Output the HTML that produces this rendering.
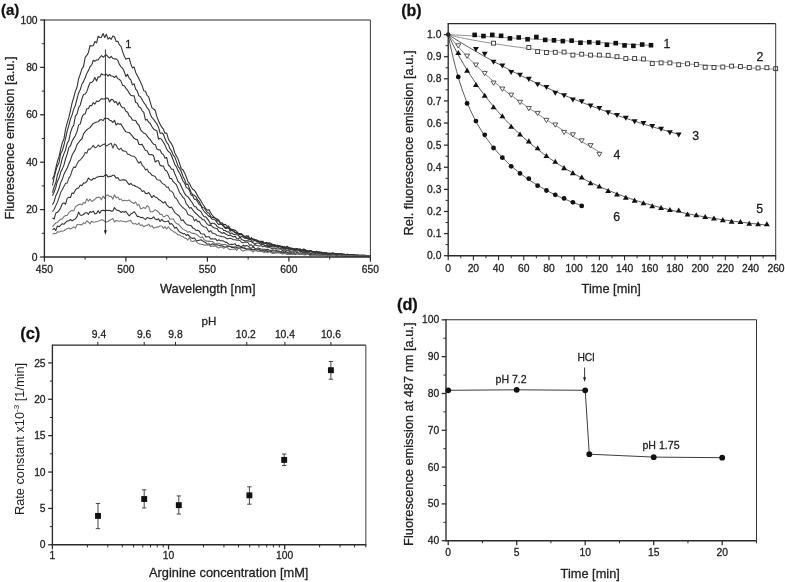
<!DOCTYPE html>
<html lang="en"><head><meta charset="utf-8"><title>Figure</title>
<style>html,body{margin:0;padding:0;background:#fff;}body{width:785px;height:582px;overflow:hidden;}svg{display:block;filter:blur(0.35px);}</style></head>
<body>
<svg width="785" height="582" viewBox="0 0 785 582" font-family='"Liberation Sans", Arial, sans-serif'>
<rect width="785" height="582" fill="#fff"/>
<g fill="none" stroke-linejoin="round">
<polyline points="52.5,179.4 54.2,175.2 55.8,168.2 57.4,161.4 59.1,156.4 60.7,149.1 62.3,142.9 64.0,138.7 65.6,128.9 67.2,122.9 68.8,117.7 70.5,110.3 72.1,102.8 73.7,97.5 75.4,91.4 77.0,87.3 78.6,78.8 80.3,74.1 81.9,68.8 83.5,66.7 85.2,57.3 86.8,55.4 88.4,52.6 90.0,45.6 91.7,45.9 93.3,45.5 94.9,41.5 96.6,42.9 98.2,36.2 99.8,37.5 101.4,37.2 103.1,33.5 104.7,37.6 106.3,34.3 108.0,39.1 109.6,37.7 111.2,39.3 112.9,36.0 114.5,36.7 116.1,41.4 117.8,41.2 119.4,44.9 121.0,46.3 122.6,51.6 124.3,56.3 125.9,59.2 127.5,58.5 129.2,58.2 130.8,63.9 132.4,67.9 134.1,67.0 135.7,72.4 137.3,75.5 138.9,78.5 140.6,82.3 142.2,85.9 143.8,90.8 145.5,91.3 147.1,95.4 148.7,96.9 150.3,102.4 152.0,107.9 153.6,109.0 155.2,110.3 156.9,116.6 158.5,120.7 160.1,124.3 161.8,127.1 163.4,129.1 165.0,133.2 166.7,133.1 168.3,138.7 169.9,141.7 171.5,143.8 173.2,147.4 174.8,153.0 176.4,155.9 178.1,159.1 179.7,163.7 181.3,169.0 183.0,169.8 184.6,172.9 186.2,176.7 187.8,181.3 189.5,183.6 191.1,186.8 192.7,189.2 194.4,190.3 196.0,192.6 197.6,195.9 199.2,198.4 200.9,200.7 202.5,203.7 204.1,206.0 205.8,208.7 207.4,210.1 209.0,209.9 210.7,212.7 212.3,215.3 213.9,216.9 215.6,218.6 217.2,219.0 218.8,220.3 220.4,223.1 222.1,222.8 223.7,224.7 225.3,224.3 227.0,226.2 228.6,226.0 230.2,228.6 231.8,229.4 233.5,229.8 235.1,230.2 236.7,231.4 238.4,233.6 240.0,233.5 241.6,234.5 243.3,235.6 244.9,236.6 246.5,235.7 248.2,237.8 249.8,238.8 251.4,238.4 253.0,239.3 254.7,240.0 256.3,239.9 257.9,240.6 259.6,241.2 261.2,241.3 262.8,242.2 264.4,243.2 266.1,243.4 267.7,243.9 269.3,243.8 271.0,245.0 272.6,245.8 274.2,244.9 275.9,246.2 277.5,246.9 279.1,245.7 280.8,246.7 282.4,246.3 284.0,247.2 285.6,247.8 287.3,248.2 288.9,248.1 290.5,248.2 292.2,248.8 293.8,248.8 295.4,249.8 297.1,249.2 298.7,250.5 300.3,249.9 301.9,249.7 303.6,249.8 305.2,249.8 306.8,251.6 308.5,250.8 310.1,250.8 311.7,251.2 313.3,252.2 315.0,251.8 316.6,251.4 318.2,252.9 319.9,252.4 321.5,252.3 323.1,253.1 324.8,252.8 326.4,253.5 328.0,253.6 329.6,253.7 331.3,253.5 332.9,253.7 334.5,253.6 336.2,254.2 337.8,254.1 339.4,254.0 341.1,254.2 342.7,254.8 344.3,254.4 345.9,254.8 347.6,254.7 349.2,254.9 350.8,254.8 352.5,255.1 354.1,255.6 355.7,255.6 357.4,255.3 359.0,255.6 360.6,255.5 362.2,255.7 363.9,255.9 365.5,255.7 367.1,256.0 368.8,256.2 370.4,255.9" stroke="#333" stroke-width="1.1"/>
<polyline points="52.5,185.5 54.2,177.0 55.8,170.8 57.4,165.9 59.1,162.2 60.7,153.4 62.3,150.7 64.0,145.0 65.6,138.1 67.2,130.9 68.8,125.5 70.5,118.9 72.1,114.9 73.7,109.1 75.4,105.2 77.0,99.0 78.6,92.9 80.3,89.6 81.9,84.2 83.5,81.6 85.2,77.8 86.8,73.4 88.4,70.6 90.0,66.7 91.7,64.9 93.3,60.2 94.9,61.3 96.6,59.9 98.2,60.0 99.8,57.5 101.4,55.6 103.1,57.2 104.7,55.9 106.3,54.9 108.0,56.7 109.6,58.0 111.2,56.3 112.9,58.5 114.5,58.9 116.1,58.8 117.8,60.3 119.4,64.4 121.0,66.8 122.6,68.3 124.3,71.7 125.9,76.7 127.5,74.3 129.2,78.4 130.8,79.7 132.4,84.9 134.1,83.8 135.7,89.1 137.3,91.1 138.9,95.7 140.6,96.9 142.2,99.8 143.8,102.6 145.5,104.6 147.1,107.9 148.7,109.4 150.3,114.2 152.0,117.7 153.6,119.4 155.2,121.6 156.9,123.8 158.5,127.2 160.1,133.2 161.8,133.0 163.4,134.3 165.0,138.7 166.7,142.3 168.3,144.4 169.9,148.7 171.5,150.8 173.2,155.1 174.8,156.9 176.4,161.4 178.1,166.3 179.7,168.4 181.3,171.5 183.0,176.4 184.6,179.4 186.2,184.4 187.8,184.1 189.5,188.4 191.1,192.5 192.7,194.6 194.4,195.4 196.0,196.8 197.6,199.8 199.2,201.4 200.9,205.1 202.5,207.5 204.1,207.8 205.8,210.2 207.4,212.5 209.0,213.0 210.7,216.4 212.3,217.4 213.9,217.5 215.6,218.2 217.2,220.9 218.8,220.8 220.4,223.8 222.1,224.2 223.7,225.6 225.3,227.7 227.0,227.2 228.6,227.6 230.2,229.2 231.8,230.0 233.5,229.7 235.1,232.5 236.7,233.5 238.4,233.7 240.0,234.9 241.6,233.8 243.3,235.3 244.9,236.9 246.5,237.4 248.2,235.7 249.8,238.6 251.4,239.3 253.0,239.1 254.7,239.4 256.3,240.2 257.9,241.5 259.6,242.1 261.2,241.4 262.8,242.3 264.4,243.7 266.1,242.3 267.7,242.9 269.3,244.0 271.0,244.4 272.6,244.4 274.2,245.3 275.9,246.1 277.5,245.4 279.1,246.8 280.8,246.0 282.4,247.4 284.0,246.9 285.6,247.2 287.3,246.3 288.9,248.3 290.5,248.8 292.2,248.7 293.8,249.2 295.4,249.2 297.1,248.9 298.7,249.0 300.3,248.9 301.9,250.4 303.6,249.0 305.2,249.6 306.8,250.9 308.5,252.1 310.1,251.3 311.7,251.4 313.3,252.6 315.0,251.9 316.6,252.2 318.2,252.6 319.9,252.2 321.5,252.2 323.1,252.9 324.8,252.8 326.4,253.3 328.0,253.5 329.6,253.3 331.3,253.3 332.9,253.8 334.5,254.4 336.2,253.7 337.8,254.4 339.4,254.1 341.1,253.8 342.7,254.3 344.3,254.7 345.9,254.9 347.6,254.4 349.2,254.8 350.8,254.8 352.5,254.8 354.1,255.1 355.7,255.2 357.4,255.4 359.0,255.8 360.6,255.7 362.2,255.5 363.9,255.6 365.5,255.6 367.1,255.8 368.8,255.8 370.4,255.8" stroke="#333" stroke-width="1.1"/>
<polyline points="52.5,192.7 54.2,186.7 55.8,182.8 57.4,174.8 59.1,170.5 60.7,164.7 62.3,158.3 64.0,153.6 65.6,149.7 67.2,143.3 68.8,140.6 70.5,132.7 72.1,127.8 73.7,125.1 75.4,116.2 77.0,114.2 78.6,107.8 80.3,105.0 81.9,98.9 83.5,94.5 85.2,94.0 86.8,91.7 88.4,86.8 90.0,82.8 91.7,82.4 93.3,80.8 94.9,77.4 96.6,81.0 98.2,76.8 99.8,77.0 101.4,73.7 103.1,74.7 104.7,75.0 106.3,74.0 108.0,76.2 109.6,74.5 111.2,76.0 112.9,76.2 114.5,77.5 116.1,75.9 117.8,78.7 119.4,79.3 121.0,81.1 122.6,85.4 124.3,85.7 125.9,88.1 127.5,90.1 129.2,93.2 130.8,95.3 132.4,95.7 134.1,95.9 135.7,102.5 137.3,103.0 138.9,106.8 140.6,107.8 142.2,110.8 143.8,112.4 145.5,120.1 147.1,119.4 148.7,122.3 150.3,123.5 152.0,126.7 153.6,129.1 155.2,129.9 156.9,130.8 158.5,139.2 160.1,138.3 161.8,139.7 163.4,142.3 165.0,145.1 166.7,149.0 168.3,151.5 169.9,152.6 171.5,155.5 173.2,160.0 174.8,164.4 176.4,166.7 178.1,170.6 179.7,173.2 181.3,177.0 183.0,181.0 184.6,183.1 186.2,187.4 187.8,188.2 189.5,190.4 191.1,195.1 192.7,195.8 194.4,199.3 196.0,199.4 197.6,201.6 199.2,204.6 200.9,205.6 202.5,209.0 204.1,211.3 205.8,213.2 207.4,214.6 209.0,216.3 210.7,217.3 212.3,219.3 213.9,219.4 215.6,220.4 217.2,222.8 218.8,224.6 220.4,224.0 222.1,224.7 223.7,226.6 225.3,228.4 227.0,228.1 228.6,227.9 230.2,231.3 231.8,230.3 233.5,231.6 235.1,232.7 236.7,232.5 238.4,234.5 240.0,234.1 241.6,234.1 243.3,235.6 244.9,237.1 246.5,238.3 248.2,238.6 249.8,239.5 251.4,237.7 253.0,239.5 254.7,240.5 256.3,241.2 257.9,241.5 259.6,241.5 261.2,242.5 262.8,241.1 264.4,243.0 266.1,243.5 267.7,243.2 269.3,242.8 271.0,243.3 272.6,244.8 274.2,244.7 275.9,245.1 277.5,245.2 279.1,245.7 280.8,246.7 282.4,247.2 284.0,246.7 285.6,247.8 287.3,246.5 288.9,247.6 290.5,248.5 292.2,248.4 293.8,248.8 295.4,248.9 297.1,248.6 298.7,250.1 300.3,250.6 301.9,249.8 303.6,250.3 305.2,250.4 306.8,250.5 308.5,251.0 310.1,250.8 311.7,251.8 313.3,251.6 315.0,252.1 316.6,252.4 318.2,251.9 319.9,252.1 321.5,253.2 323.1,253.1 324.8,252.8 326.4,252.6 328.0,253.4 329.6,253.3 331.3,253.8 332.9,252.8 334.5,253.5 336.2,253.5 337.8,253.7 339.4,253.8 341.1,254.0 342.7,254.3 344.3,254.2 345.9,254.5 347.6,254.3 349.2,254.8 350.8,254.9 352.5,254.8 354.1,254.8 355.7,255.1 357.4,255.3 359.0,255.3 360.6,255.4 362.2,255.2 363.9,255.4 365.5,255.4 367.1,255.6 368.8,255.7 370.4,255.6" stroke="#333" stroke-width="1.1"/>
<polyline points="52.5,195.7 54.2,191.8 55.8,187.4 57.4,181.4 59.1,178.1 60.7,172.1 62.3,169.1 64.0,164.9 65.6,158.5 67.2,154.1 68.8,147.6 70.5,145.7 72.1,141.0 73.7,138.4 75.4,135.5 77.0,131.6 78.6,125.1 80.3,123.9 81.9,117.6 83.5,114.2 85.2,113.9 86.8,108.7 88.4,108.6 90.0,105.5 91.7,105.8 93.3,102.6 94.9,104.1 96.6,100.9 98.2,101.6 99.8,100.5 101.4,98.7 103.1,98.9 104.7,99.0 106.3,98.0 108.0,98.2 109.6,101.9 111.2,99.4 112.9,99.7 114.5,102.4 116.1,101.5 117.8,105.0 119.4,102.2 121.0,106.1 122.6,107.8 124.3,107.8 125.9,111.4 127.5,112.0 129.2,116.0 130.8,117.1 132.4,120.1 134.1,120.3 135.7,120.5 137.3,123.7 138.9,125.0 140.6,129.8 142.2,131.7 143.8,133.1 145.5,133.7 147.1,135.9 148.7,138.3 150.3,139.4 152.0,142.4 153.6,144.2 155.2,144.5 156.9,148.9 158.5,149.8 160.1,149.9 161.8,153.5 163.4,154.6 165.0,158.2 166.7,157.4 168.3,165.0 169.9,166.5 171.5,169.3 173.2,169.3 174.8,173.7 176.4,177.4 178.1,181.7 179.7,183.1 181.3,186.4 183.0,190.0 184.6,193.4 186.2,195.6 187.8,196.7 189.5,198.9 191.1,201.2 192.7,203.4 194.4,206.7 196.0,206.8 197.6,209.4 199.2,210.2 200.9,211.6 202.5,214.5 204.1,216.7 205.8,216.8 207.4,218.9 209.0,221.1 210.7,224.2 212.3,223.0 213.9,223.5 215.6,224.2 217.2,226.6 218.8,227.5 220.4,228.3 222.1,228.2 223.7,230.5 225.3,230.5 227.0,231.9 228.6,231.7 230.2,233.7 231.8,232.9 233.5,234.2 235.1,234.7 236.7,234.8 238.4,235.0 240.0,237.6 241.6,236.3 243.3,237.3 244.9,238.4 246.5,237.8 248.2,239.2 249.8,238.9 251.4,240.7 253.0,241.3 254.7,240.4 256.3,240.3 257.9,241.7 259.6,241.9 261.2,243.2 262.8,244.1 264.4,243.8 266.1,243.1 267.7,245.6 269.3,245.1 271.0,246.3 272.6,245.4 274.2,245.3 275.9,246.9 277.5,246.7 279.1,245.9 280.8,247.1 282.4,248.0 284.0,248.4 285.6,249.0 287.3,247.7 288.9,248.8 290.5,248.1 292.2,248.4 293.8,249.6 295.4,249.7 297.1,249.3 298.7,249.9 300.3,250.1 301.9,251.3 303.6,250.3 305.2,251.3 306.8,252.2 308.5,251.7 310.1,251.4 311.7,250.9 313.3,252.1 315.0,252.7 316.6,251.6 318.2,252.5 319.9,252.8 321.5,253.2 323.1,253.3 324.8,252.7 326.4,253.4 328.0,253.6 329.6,253.7 331.3,253.2 332.9,253.9 334.5,253.7 336.2,253.9 337.8,254.0 339.4,254.4 341.1,254.2 342.7,254.1 344.3,254.5 345.9,254.8 347.6,255.0 349.2,254.8 350.8,255.0 352.5,255.0 354.1,255.1 355.7,255.4 357.4,255.1 359.0,255.3 360.6,255.4 362.2,255.4 363.9,255.4 365.5,255.6 367.1,255.7 368.8,255.6 370.4,255.7" stroke="#333" stroke-width="1.1"/>
<polyline points="52.5,204.8 54.2,201.4 55.8,195.7 57.4,192.6 59.1,188.0 60.7,182.9 62.3,179.3 64.0,174.2 65.6,171.1 67.2,168.0 68.8,163.9 70.5,160.2 72.1,155.1 73.7,152.3 75.4,149.4 77.0,144.6 78.6,142.5 80.3,140.3 81.9,139.0 83.5,133.8 85.2,131.7 86.8,129.8 88.4,128.6 90.0,127.6 91.7,125.3 93.3,123.4 94.9,122.8 96.6,122.0 98.2,121.7 99.8,120.0 101.4,119.6 103.1,120.6 104.7,118.2 106.3,118.3 108.0,118.5 109.6,120.2 111.2,120.7 112.9,122.5 114.5,120.3 116.1,125.0 117.8,123.4 119.4,124.3 121.0,123.9 122.6,126.7 124.3,129.7 125.9,131.8 127.5,132.2 129.2,132.5 130.8,134.1 132.4,136.1 134.1,138.3 135.7,139.4 137.3,139.6 138.9,144.2 140.6,144.6 142.2,144.4 143.8,147.5 145.5,150.5 147.1,150.7 148.7,154.2 150.3,154.8 152.0,154.6 153.6,155.8 155.2,162.0 156.9,160.7 158.5,160.8 160.1,165.4 161.8,165.9 163.4,166.1 165.0,170.1 166.7,171.0 168.3,174.0 169.9,178.5 171.5,178.5 173.2,181.7 174.8,183.2 176.4,184.6 178.1,188.9 179.7,192.8 181.3,194.7 183.0,197.4 184.6,198.9 186.2,203.6 187.8,205.4 189.5,208.2 191.1,207.6 192.7,209.8 194.4,212.0 196.0,213.5 197.6,214.9 199.2,216.7 200.9,217.7 202.5,219.6 204.1,219.7 205.8,222.2 207.4,224.4 209.0,225.4 210.7,225.1 212.3,226.7 213.9,227.8 215.6,228.3 217.2,228.6 218.8,231.5 220.4,232.0 222.1,233.4 223.7,232.5 225.3,233.8 227.0,234.7 228.6,235.4 230.2,234.9 231.8,236.1 233.5,236.9 235.1,236.3 236.7,238.4 238.4,239.1 240.0,237.0 241.6,239.6 243.3,240.2 244.9,240.9 246.5,240.9 248.2,240.8 249.8,241.3 251.4,241.8 253.0,242.8 254.7,243.9 256.3,243.2 257.9,242.8 259.6,243.5 261.2,244.6 262.8,244.4 264.4,245.4 266.1,245.5 267.7,246.6 269.3,246.3 271.0,246.4 272.6,246.9 274.2,246.6 275.9,246.2 277.5,246.8 279.1,248.0 280.8,248.6 282.4,248.8 284.0,249.2 285.6,248.9 287.3,248.9 288.9,249.3 290.5,249.5 292.2,249.8 293.8,250.1 295.4,250.7 297.1,249.7 298.7,250.2 300.3,251.4 301.9,251.6 303.6,251.7 305.2,251.6 306.8,251.3 308.5,251.6 310.1,251.8 311.7,251.9 313.3,252.1 315.0,252.4 316.6,252.7 318.2,253.1 319.9,253.8 321.5,253.4 323.1,252.8 324.8,253.7 326.4,253.9 328.0,253.5 329.6,253.9 331.3,254.1 332.9,253.7 334.5,254.1 336.2,254.1 337.8,254.6 339.4,254.4 341.1,254.5 342.7,254.5 344.3,254.5 345.9,254.7 347.6,254.9 349.2,254.9 350.8,255.3 352.5,255.1 354.1,255.2 355.7,255.4 357.4,255.5 359.0,255.5 360.6,255.7 362.2,255.6 363.9,255.6 365.5,255.8 367.1,255.7 368.8,255.7 370.4,255.7" stroke="#333" stroke-width="1.1"/>
<polyline points="52.5,211.8 54.2,209.2 55.8,205.7 57.4,202.2 59.1,197.6 60.7,192.3 62.3,189.8 64.0,186.2 65.6,183.2 67.2,183.2 68.8,178.4 70.5,175.5 72.1,170.5 73.7,167.1 75.4,167.4 77.0,163.9 78.6,160.9 80.3,160.0 81.9,158.1 83.5,156.2 85.2,152.4 86.8,153.2 88.4,149.1 90.0,149.4 91.7,147.5 93.3,145.4 94.9,147.7 96.6,147.3 98.2,145.0 99.8,146.6 101.4,145.7 103.1,144.5 104.7,144.0 106.3,146.0 108.0,145.0 109.6,144.0 111.2,143.2 112.9,148.1 114.5,144.0 116.1,145.0 117.8,148.4 119.4,149.7 121.0,148.2 122.6,150.6 124.3,151.1 125.9,151.3 127.5,154.1 129.2,154.5 130.8,155.4 132.4,156.1 134.1,156.3 135.7,157.8 137.3,161.1 138.9,163.2 140.6,161.5 142.2,165.2 143.8,166.8 145.5,170.0 147.1,169.0 148.7,172.2 150.3,173.1 152.0,175.4 153.6,175.8 155.2,176.4 156.9,179.5 158.5,180.1 160.1,180.3 161.8,182.9 163.4,184.1 165.0,185.0 166.7,187.3 168.3,187.0 169.9,190.8 171.5,191.0 173.2,193.1 174.8,197.5 176.4,198.5 178.1,201.4 179.7,204.4 181.3,205.8 183.0,207.8 184.6,208.9 186.2,210.5 187.8,214.2 189.5,215.2 191.1,215.9 192.7,216.7 194.4,221.1 196.0,219.1 197.6,221.6 199.2,221.4 200.9,224.3 202.5,226.0 204.1,226.8 205.8,227.2 207.4,229.2 209.0,232.0 210.7,230.6 212.3,233.1 213.9,233.4 215.6,234.3 217.2,235.5 218.8,235.8 220.4,236.2 222.1,236.6 223.7,236.8 225.3,237.5 227.0,238.9 228.6,238.5 230.2,238.2 231.8,238.7 233.5,239.7 235.1,239.8 236.7,240.1 238.4,240.3 240.0,240.5 241.6,242.3 243.3,242.7 244.9,242.0 246.5,242.3 248.2,242.7 249.8,245.5 251.4,244.5 253.0,246.8 254.7,244.6 256.3,245.4 257.9,245.7 259.6,246.1 261.2,245.6 262.8,246.8 264.4,246.3 266.1,246.9 267.7,247.3 269.3,247.5 271.0,248.0 272.6,248.9 274.2,248.1 275.9,248.4 277.5,249.1 279.1,248.8 280.8,249.0 282.4,250.4 284.0,250.0 285.6,250.3 287.3,250.8 288.9,250.3 290.5,251.2 292.2,251.1 293.8,251.0 295.4,251.1 297.1,251.3 298.7,250.6 300.3,252.1 301.9,251.9 303.6,252.8 305.2,252.2 306.8,252.1 308.5,252.2 310.1,253.2 311.7,253.2 313.3,252.7 315.0,253.4 316.6,253.1 318.2,253.9 319.9,253.3 321.5,253.5 323.1,253.8 324.8,254.3 326.4,254.2 328.0,254.2 329.6,254.3 331.3,254.5 332.9,254.6 334.5,254.6 336.2,254.4 337.8,255.3 339.4,255.2 341.1,255.3 342.7,255.2 344.3,255.5 345.9,255.1 347.6,255.2 349.2,255.4 350.8,255.5 352.5,255.4 354.1,255.5 355.7,255.5 357.4,255.7 359.0,255.6 360.6,255.9 362.2,255.6 363.9,256.2 365.5,255.9 367.1,256.0 368.8,255.9 370.4,256.1" stroke="#444" stroke-width="1.1"/>
<polyline points="52.5,218.1 54.2,218.9 55.8,213.1 57.4,212.3 59.1,210.4 60.7,207.8 62.3,203.8 64.0,202.9 65.6,204.2 67.2,198.4 68.8,197.4 70.5,197.5 72.1,192.9 73.7,193.4 75.4,190.1 77.0,188.4 78.6,188.0 80.3,185.0 81.9,185.8 83.5,183.1 85.2,182.9 86.8,181.5 88.4,178.0 90.0,179.4 91.7,180.3 93.3,178.4 94.9,178.7 96.6,177.3 98.2,176.8 99.8,176.5 101.4,176.2 103.1,176.8 104.7,175.4 106.3,174.6 108.0,176.9 109.6,176.4 111.2,176.4 112.9,175.1 114.5,175.6 116.1,178.2 117.8,177.6 119.4,180.2 121.0,180.2 122.6,179.8 124.3,179.9 125.9,180.3 127.5,182.6 129.2,184.7 130.8,183.4 132.4,185.1 134.1,185.2 135.7,186.5 137.3,186.9 138.9,188.1 140.6,189.0 142.2,191.5 143.8,190.8 145.5,193.4 147.1,193.6 148.7,192.5 150.3,195.0 152.0,197.6 153.6,195.5 155.2,196.9 156.9,197.7 158.5,199.5 160.1,200.2 161.8,201.6 163.4,203.0 165.0,201.6 166.7,204.8 168.3,206.3 169.9,207.8 171.5,207.0 173.2,209.7 174.8,212.6 176.4,213.9 178.1,215.2 179.7,216.6 181.3,220.6 183.0,219.9 184.6,222.3 186.2,224.1 187.8,225.1 189.5,225.3 191.1,225.6 192.7,227.9 194.4,228.5 196.0,230.5 197.6,230.3 199.2,230.9 200.9,233.7 202.5,234.0 204.1,234.0 205.8,236.9 207.4,236.7 209.0,236.7 210.7,239.0 212.3,238.7 213.9,239.0 215.6,238.9 217.2,240.9 218.8,239.8 220.4,240.8 222.1,240.7 223.7,241.1 225.3,242.1 227.0,242.4 228.6,244.2 230.2,244.3 231.8,244.4 233.5,244.3 235.1,243.8 236.7,245.9 238.4,245.3 240.0,246.2 241.6,246.7 243.3,245.1 244.9,246.3 246.5,245.6 248.2,246.2 249.8,247.7 251.4,248.5 253.0,246.5 254.7,248.2 256.3,248.9 257.9,248.0 259.6,248.6 261.2,249.3 262.8,249.3 264.4,249.2 266.1,249.5 267.7,249.3 269.3,250.2 271.0,250.3 272.6,250.0 274.2,250.4 275.9,250.1 277.5,251.0 279.1,251.1 280.8,251.9 282.4,250.6 284.0,252.3 285.6,251.6 287.3,252.4 288.9,251.9 290.5,251.8 292.2,253.2 293.8,252.6 295.4,253.5 297.1,252.2 298.7,253.1 300.3,253.8 301.9,253.5 303.6,252.8 305.2,252.9 306.8,253.1 308.5,254.1 310.1,253.9 311.7,253.4 313.3,254.4 315.0,254.3 316.6,254.6 318.2,254.8 319.9,254.1 321.5,254.4 323.1,254.5 324.8,254.6 326.4,254.5 328.0,254.5 329.6,255.0 331.3,255.1 332.9,255.4 334.5,254.9 336.2,255.3 337.8,255.6 339.4,255.4 341.1,255.4 342.7,255.3 344.3,255.3 345.9,255.7 347.6,255.8 349.2,255.8 350.8,255.9 352.5,255.8 354.1,255.8 355.7,255.9 357.4,256.1 359.0,256.1 360.6,255.9 362.2,256.2 363.9,256.0 365.5,256.0 367.1,256.2 368.8,256.2 370.4,256.2" stroke="#333" stroke-width="1.1"/>
<polyline points="52.5,226.8 54.2,224.7 55.8,223.0 57.4,222.4 59.1,220.6 60.7,219.3 62.3,218.9 64.0,216.5 65.6,215.6 67.2,215.5 68.8,212.7 70.5,211.3 72.1,210.5 73.7,210.9 75.4,206.7 77.0,205.7 78.6,204.7 80.3,204.1 81.9,205.0 83.5,202.6 85.2,203.1 86.8,198.7 88.4,201.2 90.0,199.2 91.7,201.4 93.3,200.5 94.9,199.3 96.6,197.5 98.2,197.4 99.8,197.4 101.4,199.8 103.1,196.0 104.7,198.4 106.3,195.3 108.0,195.1 109.6,196.5 111.2,196.4 112.9,199.2 114.5,194.7 116.1,197.7 117.8,197.0 119.4,199.6 121.0,199.1 122.6,201.0 124.3,200.3 125.9,200.5 127.5,200.8 129.2,200.0 130.8,201.7 132.4,202.6 134.1,203.5 135.7,201.9 137.3,205.6 138.9,204.4 140.6,208.8 142.2,208.2 143.8,207.4 145.5,208.6 147.1,205.6 148.7,206.7 150.3,211.7 152.0,211.7 153.6,211.2 155.2,209.6 156.9,210.8 158.5,212.1 160.1,214.4 161.8,214.3 163.4,216.8 165.0,216.3 166.7,215.1 168.3,215.9 169.9,219.2 171.5,219.0 173.2,218.8 174.8,221.6 176.4,223.4 178.1,224.0 179.7,225.6 181.3,227.3 183.0,229.1 184.6,230.1 186.2,230.8 187.8,232.3 189.5,231.6 191.1,232.8 192.7,233.4 194.4,233.4 196.0,234.3 197.6,235.1 199.2,236.6 200.9,237.7 202.5,236.7 204.1,239.8 205.8,240.5 207.4,241.4 209.0,241.1 210.7,241.5 212.3,241.5 213.9,242.8 215.6,244.2 217.2,243.2 218.8,243.2 220.4,244.1 222.1,244.6 223.7,244.5 225.3,244.2 227.0,245.5 228.6,246.6 230.2,246.3 231.8,246.3 233.5,247.6 235.1,246.2 236.7,247.4 238.4,246.9 240.0,247.3 241.6,247.9 243.3,246.9 244.9,248.5 246.5,248.8 248.2,248.4 249.8,248.3 251.4,249.0 253.0,249.8 254.7,249.0 256.3,249.2 257.9,248.6 259.6,250.1 261.2,250.0 262.8,250.7 264.4,251.3 266.1,250.7 267.7,250.4 269.3,251.6 271.0,251.6 272.6,252.0 274.2,250.8 275.9,252.0 277.5,251.6 279.1,252.5 280.8,252.1 282.4,252.6 284.0,253.6 285.6,252.5 287.3,252.4 288.9,253.9 290.5,253.0 292.2,253.3 293.8,253.7 295.4,253.4 297.1,254.3 298.7,253.5 300.3,253.2 301.9,254.3 303.6,253.9 305.2,253.5 306.8,254.1 308.5,254.4 310.1,254.7 311.7,254.4 313.3,254.6 315.0,254.4 316.6,255.2 318.2,254.4 319.9,255.0 321.5,254.8 323.1,255.2 324.8,255.4 326.4,255.3 328.0,255.5 329.6,255.4 331.3,255.2 332.9,255.1 334.5,255.4 336.2,255.6 337.8,255.6 339.4,255.5 341.1,255.4 342.7,255.7 344.3,255.7 345.9,255.9 347.6,255.8 349.2,255.7 350.8,256.3 352.5,255.9 354.1,256.1 355.7,256.3 357.4,256.0 359.0,256.1 360.6,256.1 362.2,256.3 363.9,256.0 365.5,256.2 367.1,256.2 368.8,256.1 370.4,256.2" stroke="#777" stroke-width="1.1"/>
<polyline points="52.5,229.7 54.2,228.4 55.8,230.4 57.4,225.9 59.1,226.8 60.7,225.2 62.3,223.7 64.0,224.3 65.6,222.4 67.2,221.0 68.8,220.9 70.5,219.5 72.1,220.9 73.7,219.7 75.4,219.0 77.0,216.6 78.6,212.1 80.3,215.3 81.9,215.2 83.5,214.5 85.2,212.8 86.8,212.7 88.4,214.4 90.0,211.5 91.7,212.4 93.3,211.1 94.9,214.1 96.6,213.4 98.2,210.7 99.8,213.3 101.4,210.5 103.1,210.4 104.7,210.6 106.3,210.4 108.0,210.5 109.6,210.3 111.2,211.3 112.9,210.9 114.5,207.5 116.1,209.7 117.8,210.4 119.4,210.8 121.0,212.4 122.6,211.5 124.3,212.3 125.9,211.3 127.5,213.7 129.2,215.8 130.8,214.1 132.4,213.2 134.1,211.6 135.7,213.8 137.3,216.6 138.9,216.3 140.6,217.7 142.2,217.3 143.8,218.4 145.5,219.5 147.1,217.6 148.7,218.1 150.3,218.8 152.0,218.4 153.6,216.8 155.2,219.1 156.9,219.8 158.5,218.7 160.1,221.5 161.8,219.3 163.4,221.2 165.0,221.7 166.7,221.5 168.3,220.8 169.9,224.3 171.5,223.6 173.2,225.4 174.8,228.2 176.4,227.3 178.1,230.2 179.7,232.1 181.3,232.7 183.0,233.7 184.6,233.5 186.2,235.5 187.8,234.5 189.5,236.3 191.1,237.7 192.7,238.4 194.4,238.0 196.0,240.3 197.6,240.8 199.2,240.3 200.9,239.8 202.5,240.8 204.1,241.7 205.8,242.6 207.4,244.5 209.0,243.7 210.7,245.1 212.3,243.7 213.9,244.6 215.6,245.0 217.2,244.9 218.8,245.3 220.4,245.6 222.1,245.8 223.7,246.6 225.3,247.4 227.0,246.5 228.6,246.0 230.2,246.5 231.8,247.5 233.5,247.2 235.1,248.0 236.7,247.7 238.4,248.5 240.0,248.2 241.6,247.3 243.3,248.2 244.9,248.0 246.5,249.5 248.2,249.6 249.8,249.4 251.4,249.3 253.0,249.9 254.7,249.4 256.3,250.4 257.9,249.5 259.6,249.9 261.2,251.2 262.8,250.5 264.4,251.1 266.1,250.6 267.7,251.6 269.3,251.3 271.0,251.3 272.6,253.2 274.2,252.9 275.9,252.0 277.5,252.3 279.1,251.8 280.8,252.4 282.4,253.3 284.0,252.6 285.6,253.3 287.3,253.1 288.9,253.4 290.5,253.1 292.2,254.0 293.8,254.0 295.4,254.6 297.1,252.7 298.7,254.2 300.3,254.3 301.9,254.5 303.6,254.4 305.2,254.4 306.8,254.1 308.5,254.3 310.1,254.4 311.7,254.8 313.3,254.7 315.0,254.4 316.6,254.8 318.2,254.8 319.9,255.6 321.5,254.9 323.1,255.0 324.8,254.8 326.4,256.0 328.0,255.3 329.6,255.4 331.3,255.4 332.9,255.6 334.5,255.5 336.2,255.4 337.8,255.6 339.4,255.7 341.1,255.7 342.7,255.8 344.3,255.8 345.9,255.9 347.6,256.2 349.2,255.7 350.8,256.2 352.5,256.0 354.1,256.2 355.7,256.1 357.4,256.2 359.0,256.1 360.6,256.2 362.2,256.3 363.9,256.1 365.5,256.1 367.1,256.2 368.8,256.2 370.4,256.3" stroke="#333" stroke-width="1.1"/>
<polyline points="52.5,234.4 54.2,233.3 55.8,233.8 57.4,231.7 59.1,232.1 60.7,231.1 62.3,231.3 64.0,230.7 65.6,229.4 67.2,228.7 68.8,228.1 70.5,228.9 72.1,228.1 73.7,226.8 75.4,228.2 77.0,224.6 78.6,224.8 80.3,224.6 81.9,224.9 83.5,222.8 85.2,223.6 86.8,220.8 88.4,222.1 90.0,223.9 91.7,221.1 93.3,222.2 94.9,222.0 96.6,221.5 98.2,221.2 99.8,220.6 101.4,219.8 103.1,220.1 104.7,221.4 106.3,222.1 108.0,221.5 109.6,220.2 111.2,219.6 112.9,218.5 114.5,222.1 116.1,220.5 117.8,220.9 119.4,221.2 121.0,220.8 122.6,221.3 124.3,221.5 125.9,222.1 127.5,221.2 129.2,220.8 130.8,220.4 132.4,223.2 134.1,224.1 135.7,223.6 137.3,224.7 138.9,223.1 140.6,225.5 142.2,224.9 143.8,226.7 145.5,225.8 147.1,225.4 148.7,224.1 150.3,226.6 152.0,225.6 153.6,228.3 155.2,227.5 156.9,227.1 158.5,226.9 160.1,226.0 161.8,226.0 163.4,228.5 165.0,226.7 166.7,228.9 168.3,226.7 169.9,229.0 171.5,230.1 173.2,231.4 174.8,232.2 176.4,233.2 178.1,235.0 179.7,234.8 181.3,236.2 183.0,236.7 184.6,238.2 186.2,238.3 187.8,240.2 189.5,237.3 191.1,241.3 192.7,241.5 194.4,240.8 196.0,240.9 197.6,242.9 199.2,243.9 200.9,244.2 202.5,244.5 204.1,244.9 205.8,245.1 207.4,244.7 209.0,245.0 210.7,246.5 212.3,246.1 213.9,246.1 215.6,246.0 217.2,247.3 218.8,247.9 220.4,247.1 222.1,246.9 223.7,248.4 225.3,247.0 227.0,247.3 228.6,248.8 230.2,249.7 231.8,249.3 233.5,249.3 235.1,248.9 236.7,250.4 238.4,248.1 240.0,248.3 241.6,250.3 243.3,251.1 244.9,250.2 246.5,250.0 248.2,249.6 249.8,250.1 251.4,250.8 253.0,252.0 254.7,250.7 256.3,250.7 257.9,251.5 259.6,251.3 261.2,251.5 262.8,251.9 264.4,252.5 266.1,251.8 267.7,252.9 269.3,251.5 271.0,252.9 272.6,252.3 274.2,253.1 275.9,252.6 277.5,253.0 279.1,252.8 280.8,253.6 282.4,254.1 284.0,253.5 285.6,253.7 287.3,254.4 288.9,254.1 290.5,254.6 292.2,253.9 293.8,254.2 295.4,254.1 297.1,253.1 298.7,254.2 300.3,254.2 301.9,254.2 303.6,254.6 305.2,254.9 306.8,254.4 308.5,254.4 310.1,255.9 311.7,255.0 313.3,255.1 315.0,255.3 316.6,254.8 318.2,255.4 319.9,255.0 321.5,255.5 323.1,255.5 324.8,255.3 326.4,255.7 328.0,255.6 329.6,255.9 331.3,255.8 332.9,255.5 334.5,255.6 336.2,256.0 337.8,256.0 339.4,255.3 341.1,256.0 342.7,256.1 344.3,255.9 345.9,256.1 347.6,256.1 349.2,255.9 350.8,255.9 352.5,256.1 354.1,256.0 355.7,256.2 357.4,256.2 359.0,256.2 360.6,256.3 362.2,256.2 363.9,256.2 365.5,256.3 367.1,256.3 368.8,256.3 370.4,256.3" stroke="#777" stroke-width="1.1"/>
</g>
<line x1="44.40" y1="19.40" x2="44.40" y2="257.60" stroke="#2a2a2a" stroke-width="1.35" />
<line x1="43.80" y1="257.00" x2="370.90" y2="257.00" stroke="#2a2a2a" stroke-width="1.45" />
<line x1="44.40" y1="20.00" x2="370.40" y2="20.00" stroke="#2a2a2a" stroke-width="1.15" />
<line x1="370.40" y1="20.00" x2="370.40" y2="257.00" stroke="#3a3a3a" stroke-width="1.0" />
<line x1="40.10" y1="257.00" x2="44.40" y2="257.00" stroke="#2a2a2a" stroke-width="1.25" />
<text x="37.60" y="260.60" font-size="10.30" text-anchor="end" font-weight="normal" fill="#222" stroke="#222" stroke-width="0.28" >0</text>
<line x1="41.80" y1="233.30" x2="44.40" y2="233.30" stroke="#2a2a2a" stroke-width="1.0" />
<line x1="40.10" y1="209.60" x2="44.40" y2="209.60" stroke="#2a2a2a" stroke-width="1.25" />
<text x="37.60" y="213.20" font-size="10.30" text-anchor="end" font-weight="normal" fill="#222" stroke="#222" stroke-width="0.28" >20</text>
<line x1="41.80" y1="185.90" x2="44.40" y2="185.90" stroke="#2a2a2a" stroke-width="1.0" />
<line x1="40.10" y1="162.20" x2="44.40" y2="162.20" stroke="#2a2a2a" stroke-width="1.25" />
<text x="37.60" y="165.80" font-size="10.30" text-anchor="end" font-weight="normal" fill="#222" stroke="#222" stroke-width="0.28" >40</text>
<line x1="41.80" y1="138.50" x2="44.40" y2="138.50" stroke="#2a2a2a" stroke-width="1.0" />
<line x1="40.10" y1="114.80" x2="44.40" y2="114.80" stroke="#2a2a2a" stroke-width="1.25" />
<text x="37.60" y="118.40" font-size="10.30" text-anchor="end" font-weight="normal" fill="#222" stroke="#222" stroke-width="0.28" >60</text>
<line x1="41.80" y1="91.10" x2="44.40" y2="91.10" stroke="#2a2a2a" stroke-width="1.0" />
<line x1="40.10" y1="67.40" x2="44.40" y2="67.40" stroke="#2a2a2a" stroke-width="1.25" />
<text x="37.60" y="71.00" font-size="10.30" text-anchor="end" font-weight="normal" fill="#222" stroke="#222" stroke-width="0.28" >80</text>
<line x1="41.80" y1="43.70" x2="44.40" y2="43.70" stroke="#2a2a2a" stroke-width="1.0" />
<line x1="40.10" y1="20.00" x2="44.40" y2="20.00" stroke="#2a2a2a" stroke-width="1.25" />
<text x="37.60" y="23.60" font-size="10.30" text-anchor="end" font-weight="normal" fill="#222" stroke="#222" stroke-width="0.28" >100</text>
<line x1="44.40" y1="257.00" x2="44.40" y2="261.60" stroke="#2a2a2a" stroke-width="1.25" />
<text x="44.40" y="272.60" font-size="10.30" text-anchor="middle" font-weight="normal" fill="#222" stroke="#222" stroke-width="0.28" >450</text>
<line x1="85.15" y1="257.00" x2="85.15" y2="259.60" stroke="#2a2a2a" stroke-width="1.0" />
<line x1="125.90" y1="257.00" x2="125.90" y2="261.60" stroke="#2a2a2a" stroke-width="1.25" />
<text x="125.90" y="272.60" font-size="10.30" text-anchor="middle" font-weight="normal" fill="#222" stroke="#222" stroke-width="0.28" >500</text>
<line x1="166.65" y1="257.00" x2="166.65" y2="259.60" stroke="#2a2a2a" stroke-width="1.0" />
<line x1="207.40" y1="257.00" x2="207.40" y2="261.60" stroke="#2a2a2a" stroke-width="1.25" />
<text x="207.40" y="272.60" font-size="10.30" text-anchor="middle" font-weight="normal" fill="#222" stroke="#222" stroke-width="0.28" >550</text>
<line x1="248.15" y1="257.00" x2="248.15" y2="259.60" stroke="#2a2a2a" stroke-width="1.0" />
<line x1="288.90" y1="257.00" x2="288.90" y2="261.60" stroke="#2a2a2a" stroke-width="1.25" />
<text x="288.90" y="272.60" font-size="10.30" text-anchor="middle" font-weight="normal" fill="#222" stroke="#222" stroke-width="0.28" >600</text>
<line x1="329.65" y1="257.00" x2="329.65" y2="259.60" stroke="#2a2a2a" stroke-width="1.0" />
<line x1="370.40" y1="257.00" x2="370.40" y2="261.60" stroke="#2a2a2a" stroke-width="1.25" />
<text x="370.40" y="272.60" font-size="10.30" text-anchor="middle" font-weight="normal" fill="#222" stroke="#222" stroke-width="0.28" >650</text>
<text x="207.70" y="293.20" font-size="12.80" text-anchor="middle" font-weight="normal" fill="#222" stroke="#222" stroke-width="0.28" >Wavelength [nm]</text>
<text x="13.80" y="138.00" font-size="12.80" text-anchor="middle" font-weight="normal" fill="#222" stroke="#222" stroke-width="0.28" transform="rotate(-90 13.80 138.00)" >Fluorescence emission [a.u.]</text>
<text x="1.00" y="15.20" font-size="15.00" text-anchor="start" font-weight="bold" fill="#111" stroke="#111" stroke-width="0.28" >(a)</text>
<text x="128.30" y="47.60" font-size="11.00" text-anchor="middle" font-weight="normal" fill="#222" stroke="#222" stroke-width="0.28" >1</text>
<line x1="105.40" y1="49.40" x2="105.40" y2="233.00" stroke="#222" stroke-width="0.9" />
<path d="M103.9 230.2 L105.4 234.8 L106.9 230.2 Z" fill="#222"/>
<line x1="448.20" y1="34.60" x2="652.26" y2="45.43" stroke="#777" stroke-width="0.8" />
<polyline points="448.2,34.6 452.3,35.7 456.5,36.7 460.6,37.6 464.8,38.5 468.9,39.3 473.1,40.1 477.2,40.8 481.4,41.6 485.5,42.3 489.7,42.9 493.8,43.6 497.9,44.2 502.1,44.9 506.2,45.5 510.4,46.1 514.5,46.7 518.7,47.2 522.8,47.8 527.0,48.3 531.1,48.9 535.3,49.4 539.4,49.9 543.5,50.4 547.7,50.9 551.8,51.4 556.0,51.9 560.1,52.4 564.3,52.8 568.4,53.3 572.6,53.8 576.7,54.2 580.9,54.6 585.0,55.1 589.1,55.5 593.3,55.9 597.4,56.3 601.6,56.7 605.7,57.1 609.9,57.5 614.0,57.9 618.2,58.3 622.3,58.7 626.5,59.0 630.6,59.4 634.8,59.8 638.9,60.1 643.0,60.5 647.2,60.8 651.3,61.2 655.5,61.5 659.6,61.8 663.8,62.1 667.9,62.5 672.1,62.8 676.2,63.1 680.4,63.4 684.5,63.7 688.6,64.0 692.8,64.3 696.9,64.5 701.1,64.8 705.2,65.1 709.4,65.4 713.5,65.6 717.7,65.9 721.8,66.2 726.0,66.4 730.1,66.7 734.2,66.9 738.4,67.2 742.5,67.4 746.7,67.7 750.8,67.9 755.0,68.1 759.1,68.3 763.3,68.6 767.4,68.8 771.6,69.0 775.7,69.2" fill="none" stroke="#777" stroke-width="0.8"/>
<polyline points="448.2,34.6 451.1,36.5 454.1,38.3 457.0,40.2 459.9,42.0 462.9,43.8 465.8,45.5 468.7,47.3 471.7,49.0 474.6,50.8 477.5,52.4 480.5,54.1 483.4,55.8 486.3,57.4 489.3,59.1 492.2,60.7 495.1,62.3 498.1,63.8 501.0,65.4 503.9,66.9 506.9,68.5 509.8,70.0 512.7,71.5 515.7,72.9 518.6,74.4 521.5,75.9 524.5,77.3 527.4,78.7 530.3,80.1 533.3,81.5 536.2,82.9 539.1,84.2 542.1,85.5 545.0,86.9 547.9,88.2 550.9,89.5 553.8,90.8 556.8,92.0 559.7,93.3 562.6,94.5 565.6,95.8 568.5,97.0 571.4,98.2 574.4,99.4 577.3,100.5 580.2,101.7 583.2,102.9 586.1,104.0 589.0,105.1 592.0,106.2 594.9,107.3 597.8,108.4 600.8,109.5 603.7,110.6 606.6,111.6 609.6,112.7 612.5,113.7 615.4,114.7 618.4,115.7 621.3,116.8 624.2,117.7 627.2,118.7 630.1,119.7 633.0,120.6 636.0,121.6 638.9,122.5 641.8,123.5 644.8,124.4 647.7,125.3 650.6,126.2 653.6,127.1 656.5,128.0 659.4,128.8 662.4,129.7 665.3,130.5 668.2,131.4 671.2,132.2 674.1,133.0 677.0,133.8 680.0,134.7" fill="none" stroke="#333" stroke-width="0.8"/>
<polyline points="448.2,34.6 450.1,37.0 452.1,39.4 454.0,41.8 455.9,44.1 457.8,46.3 459.8,48.5 461.7,50.7 463.6,52.8 465.6,54.9 467.5,56.9 469.4,58.9 471.4,60.9 473.3,62.8 475.2,64.7 477.1,66.6 479.1,68.4 481.0,70.2 482.9,72.0 484.9,73.7 486.8,75.5 488.7,77.1 490.6,78.8 492.6,80.5 494.5,82.1 496.4,83.7 498.4,85.3 500.3,86.8 502.2,88.4 504.1,89.9 506.1,91.4 508.0,92.9 509.9,94.4 511.9,95.8 513.8,97.3 515.7,98.7 517.7,100.1 519.6,101.5 521.5,102.9 523.4,104.2 525.4,105.6 527.3,107.0 529.2,108.3 531.2,109.6 533.1,110.9 535.0,112.2 536.9,113.5 538.9,114.8 540.8,116.1 542.7,117.4 544.7,118.6 546.6,119.9 548.5,121.1 550.5,122.4 552.4,123.6 554.3,124.8 556.2,126.0 558.2,127.2 560.1,128.4 562.0,129.6 564.0,130.8 565.9,132.0 567.8,133.2 569.7,134.4 571.7,135.5 573.6,136.7 575.5,137.9 577.5,139.0 579.4,140.2 581.3,141.3 583.2,142.5 585.2,143.6 587.1,144.8 589.0,145.9 591.0,147.0 592.9,148.2 594.8,149.3 596.8,150.4 598.7,151.5 600.6,152.7" fill="none" stroke="#666" stroke-width="0.8"/>
<polyline points="448.2,34.6 452.2,43.1 456.3,51.1 460.3,58.5 464.4,65.5 468.4,72.1 472.5,78.3 476.5,84.3 480.6,89.9 484.6,95.4 488.7,100.5 492.7,105.5 496.8,110.3 500.8,114.9 504.9,119.3 508.9,123.5 513.0,127.6 517.0,131.5 521.1,135.3 525.1,139.0 529.2,142.5 533.2,145.8 537.3,149.1 541.3,152.2 545.4,155.3 549.4,158.2 553.5,161.0 557.5,163.7 561.6,166.3 565.6,168.8 569.7,171.2 573.7,173.6 577.8,175.8 581.8,178.0 585.9,180.1 589.9,182.1 594.0,184.0 598.0,185.9 602.1,187.7 606.1,189.4 610.2,191.1 614.2,192.7 618.3,194.3 622.3,195.8 626.4,197.2 630.4,198.6 634.5,200.0 638.5,201.3 642.6,202.5 646.6,203.7 650.7,204.9 654.7,206.0 658.8,207.1 662.8,208.1 666.9,209.1 670.9,210.1 675.0,211.0 679.0,211.9 683.1,212.8 687.1,213.6 691.2,214.4 695.2,215.2 699.3,215.9 703.3,216.6 707.4,217.3 711.4,218.0 715.5,218.6 719.5,219.3 723.6,219.9 727.6,220.4 731.7,221.0 735.7,221.5 739.8,222.0 743.8,222.5 747.9,223.0 751.9,223.5 756.0,223.9 760.0,224.4 764.1,224.8 768.1,225.2" fill="none" stroke="#333" stroke-width="0.8"/>
<polyline points="448.2,34.6 449.9,43.2 451.6,51.1 453.3,58.4 455.0,65.2 456.7,71.6 458.3,77.5 460.0,83.0 461.7,88.2 463.4,93.0 465.1,97.6 466.8,101.8 468.5,105.9 470.2,109.7 471.9,113.3 473.6,116.8 475.2,120.0 476.9,123.1 478.6,126.1 480.3,128.9 482.0,131.7 483.7,134.3 485.4,136.8 487.1,139.2 488.8,141.5 490.5,143.7 492.1,145.9 493.8,147.9 495.5,149.9 497.2,151.9 498.9,153.8 500.6,155.6 502.3,157.4 504.0,159.1 505.7,160.7 507.4,162.4 509.0,163.9 510.7,165.5 512.4,167.0 514.1,168.4 515.8,169.8 517.5,171.2 519.2,172.6 520.9,173.9 522.6,175.2 524.3,176.4 525.9,177.6 527.6,178.8 529.3,180.0 531.0,181.1 532.7,182.2 534.4,183.3 536.1,184.4 537.8,185.4 539.5,186.4 541.2,187.4 542.8,188.4 544.5,189.3 546.2,190.2 547.9,191.1 549.6,192.0 551.3,192.9 553.0,193.7 554.7,194.6 556.4,195.4 558.1,196.1 559.7,196.9 561.4,197.7 563.1,198.4 564.8,199.1 566.5,199.8 568.2,200.5 569.9,201.2 571.6,201.9 573.3,202.5 575.0,203.2 576.6,203.8 578.3,204.4 580.0,205.0 581.7,205.6" fill="none" stroke="#333" stroke-width="0.8"/>
<rect x="472.35" y="32.61" width="4.6" height="4.6" fill="#111"/>
<rect x="481.17" y="33.74" width="4.6" height="4.6" fill="#111"/>
<rect x="489.99" y="32.61" width="4.6" height="4.6" fill="#111"/>
<rect x="498.80" y="33.52" width="4.6" height="4.6" fill="#111"/>
<rect x="507.62" y="36.06" width="4.6" height="4.6" fill="#111"/>
<rect x="516.44" y="35.17" width="4.6" height="4.6" fill="#111"/>
<rect x="525.26" y="36.94" width="4.6" height="4.6" fill="#111"/>
<rect x="534.07" y="34.73" width="4.6" height="4.6" fill="#111"/>
<rect x="542.89" y="37.61" width="4.6" height="4.6" fill="#111"/>
<rect x="551.71" y="38.05" width="4.6" height="4.6" fill="#111"/>
<rect x="560.53" y="38.80" width="4.6" height="4.6" fill="#111"/>
<rect x="569.34" y="38.34" width="4.6" height="4.6" fill="#111"/>
<rect x="578.16" y="40.39" width="4.6" height="4.6" fill="#111"/>
<rect x="586.98" y="39.93" width="4.6" height="4.6" fill="#111"/>
<rect x="595.79" y="40.39" width="4.6" height="4.6" fill="#111"/>
<rect x="604.61" y="42.47" width="4.6" height="4.6" fill="#111"/>
<rect x="613.43" y="40.86" width="4.6" height="4.6" fill="#111"/>
<rect x="622.25" y="43.13" width="4.6" height="4.6" fill="#111"/>
<rect x="631.06" y="43.58" width="4.6" height="4.6" fill="#111"/>
<rect x="639.88" y="42.25" width="4.6" height="4.6" fill="#111"/>
<rect x="648.70" y="42.91" width="4.6" height="4.6" fill="#111"/>
<rect x="491.60" y="41.21" width="3.9" height="3.9" fill="#fff" stroke="#333" stroke-width="0.9"/>
<rect x="526.87" y="45.56" width="3.9" height="3.9" fill="#fff" stroke="#333" stroke-width="0.9"/>
<rect x="535.68" y="49.67" width="3.9" height="3.9" fill="#fff" stroke="#333" stroke-width="0.9"/>
<rect x="544.50" y="50.58" width="3.9" height="3.9" fill="#fff" stroke="#333" stroke-width="0.9"/>
<rect x="553.32" y="50.34" width="3.9" height="3.9" fill="#fff" stroke="#333" stroke-width="0.9"/>
<rect x="562.13" y="50.12" width="3.9" height="3.9" fill="#fff" stroke="#333" stroke-width="0.9"/>
<rect x="570.95" y="53.12" width="3.9" height="3.9" fill="#fff" stroke="#333" stroke-width="0.9"/>
<rect x="579.77" y="52.22" width="3.9" height="3.9" fill="#fff" stroke="#333" stroke-width="0.9"/>
<rect x="588.59" y="53.12" width="3.9" height="3.9" fill="#fff" stroke="#333" stroke-width="0.9"/>
<rect x="597.40" y="53.12" width="3.9" height="3.9" fill="#fff" stroke="#333" stroke-width="0.9"/>
<rect x="606.22" y="53.34" width="3.9" height="3.9" fill="#fff" stroke="#333" stroke-width="0.9"/>
<rect x="615.04" y="54.76" width="3.9" height="3.9" fill="#fff" stroke="#333" stroke-width="0.9"/>
<rect x="623.86" y="56.60" width="3.9" height="3.9" fill="#fff" stroke="#333" stroke-width="0.9"/>
<rect x="632.67" y="56.60" width="3.9" height="3.9" fill="#fff" stroke="#333" stroke-width="0.9"/>
<rect x="641.49" y="57.06" width="3.9" height="3.9" fill="#fff" stroke="#333" stroke-width="0.9"/>
<rect x="650.31" y="61.64" width="3.9" height="3.9" fill="#fff" stroke="#333" stroke-width="0.9"/>
<rect x="659.12" y="60.95" width="3.9" height="3.9" fill="#fff" stroke="#333" stroke-width="0.9"/>
<rect x="667.94" y="60.95" width="3.9" height="3.9" fill="#fff" stroke="#333" stroke-width="0.9"/>
<rect x="676.76" y="62.79" width="3.9" height="3.9" fill="#fff" stroke="#333" stroke-width="0.9"/>
<rect x="685.58" y="61.84" width="3.9" height="3.9" fill="#fff" stroke="#333" stroke-width="0.9"/>
<rect x="694.39" y="62.54" width="3.9" height="3.9" fill="#fff" stroke="#333" stroke-width="0.9"/>
<rect x="703.21" y="65.31" width="3.9" height="3.9" fill="#fff" stroke="#333" stroke-width="0.9"/>
<rect x="712.03" y="65.53" width="3.9" height="3.9" fill="#fff" stroke="#333" stroke-width="0.9"/>
<rect x="720.85" y="65.06" width="3.9" height="3.9" fill="#fff" stroke="#333" stroke-width="0.9"/>
<rect x="729.66" y="64.16" width="3.9" height="3.9" fill="#fff" stroke="#333" stroke-width="0.9"/>
<rect x="738.48" y="64.60" width="3.9" height="3.9" fill="#fff" stroke="#333" stroke-width="0.9"/>
<rect x="747.30" y="65.53" width="3.9" height="3.9" fill="#fff" stroke="#333" stroke-width="0.9"/>
<rect x="756.12" y="65.99" width="3.9" height="3.9" fill="#fff" stroke="#333" stroke-width="0.9"/>
<rect x="764.93" y="65.75" width="3.9" height="3.9" fill="#fff" stroke="#333" stroke-width="0.9"/>
<rect x="773.75" y="66.70" width="3.9" height="3.9" fill="#fff" stroke="#333" stroke-width="0.9"/>
<path d="M472.96 47.05 L478.86 47.05 L475.91 52.06 Z" fill="#111"/>
<path d="M481.78 51.84 L487.68 51.84 L484.73 56.86 Z" fill="#111"/>
<path d="M490.60 59.80 L496.50 59.80 L493.55 64.82 Z" fill="#111"/>
<path d="M499.41 63.39 L505.31 63.39 L502.36 68.40 Z" fill="#111"/>
<path d="M508.23 69.89 L514.13 69.89 L511.18 74.90 Z" fill="#111"/>
<path d="M517.05 72.78 L522.95 72.78 L520.00 77.80 Z" fill="#111"/>
<path d="M525.87 76.87 L531.77 76.87 L528.82 81.89 Z" fill="#111"/>
<path d="M534.68 82.18 L540.58 82.18 L537.63 87.19 Z" fill="#111"/>
<path d="M543.50 85.05 L549.40 85.05 L546.45 90.07 Z" fill="#111"/>
<path d="M552.32 90.82 L558.22 90.82 L555.27 95.84 Z" fill="#111"/>
<path d="M561.13 93.23 L567.03 93.23 L564.08 98.25 Z" fill="#111"/>
<path d="M569.95 97.57 L575.85 97.57 L572.90 102.58 Z" fill="#111"/>
<path d="M578.77 99.25 L584.67 99.25 L581.72 104.26 Z" fill="#111"/>
<path d="M587.59 103.58 L593.49 103.58 L590.54 108.60 Z" fill="#111"/>
<path d="M596.40 105.99 L602.30 105.99 L599.35 111.01 Z" fill="#111"/>
<path d="M605.22 110.37 L611.12 110.37 L608.17 115.38 Z" fill="#111"/>
<path d="M614.04 112.91 L619.94 112.91 L616.99 117.93 Z" fill="#111"/>
<path d="M622.86 115.70 L628.76 115.70 L625.81 120.71 Z" fill="#111"/>
<path d="M631.67 119.30 L637.57 119.30 L634.62 124.32 Z" fill="#111"/>
<path d="M640.49 121.00 L646.39 121.00 L643.44 126.02 Z" fill="#111"/>
<path d="M649.31 123.88 L655.21 123.88 L652.26 128.89 Z" fill="#111"/>
<path d="M658.12 126.78 L664.03 126.78 L661.08 131.79 Z" fill="#111"/>
<path d="M666.94 130.14 L672.84 130.14 L669.89 135.15 Z" fill="#111"/>
<path d="M675.76 132.55 L681.66 132.55 L678.71 137.56 Z" fill="#111"/>
<path d="M455.78 43.78 L460.78 43.78 L458.28 48.03 Z" fill="#fff" stroke="#444" stroke-width="0.9"/>
<path d="M464.59 54.13 L469.59 54.13 L467.09 58.38 Z" fill="#fff" stroke="#444" stroke-width="0.9"/>
<path d="M473.41 63.02 L478.41 63.02 L475.91 67.27 Z" fill="#fff" stroke="#444" stroke-width="0.9"/>
<path d="M482.23 71.42 L487.23 71.42 L484.73 75.67 Z" fill="#fff" stroke="#444" stroke-width="0.9"/>
<path d="M491.05 81.04 L496.05 81.04 L493.55 85.29 Z" fill="#fff" stroke="#444" stroke-width="0.9"/>
<path d="M499.86 87.07 L504.86 87.07 L502.36 91.32 Z" fill="#fff" stroke="#444" stroke-width="0.9"/>
<path d="M508.68 93.09 L513.68 93.09 L511.18 97.34 Z" fill="#fff" stroke="#444" stroke-width="0.9"/>
<path d="M517.50 100.32 L522.50 100.32 L520.00 104.57 Z" fill="#fff" stroke="#444" stroke-width="0.9"/>
<path d="M526.32 106.57 L531.32 106.57 L528.82 110.82 Z" fill="#fff" stroke="#444" stroke-width="0.9"/>
<path d="M535.13 111.37 L540.13 111.37 L537.63 115.62 Z" fill="#fff" stroke="#444" stroke-width="0.9"/>
<path d="M543.95 118.36 L548.95 118.36 L546.45 122.61 Z" fill="#fff" stroke="#444" stroke-width="0.9"/>
<path d="M552.77 122.93 L557.77 122.93 L555.27 127.18 Z" fill="#fff" stroke="#444" stroke-width="0.9"/>
<path d="M561.58 130.38 L566.58 130.38 L564.08 134.63 Z" fill="#fff" stroke="#444" stroke-width="0.9"/>
<path d="M570.40 132.79 L575.40 132.79 L572.90 137.04 Z" fill="#fff" stroke="#444" stroke-width="0.9"/>
<path d="M579.22 138.81 L584.22 138.81 L581.72 143.06 Z" fill="#fff" stroke="#444" stroke-width="0.9"/>
<path d="M588.04 143.63 L593.04 143.63 L590.54 147.88 Z" fill="#fff" stroke="#444" stroke-width="0.9"/>
<path d="M596.85 152.30 L601.85 152.30 L599.35 156.55 Z" fill="#fff" stroke="#444" stroke-width="0.9"/>
<path d="M455.33 55.08 L461.23 55.08 L458.28 50.06 Z" fill="#111"/>
<path d="M464.14 72.63 L470.04 72.63 L467.09 67.62 Z" fill="#111"/>
<path d="M472.96 87.07 L478.86 87.07 L475.91 82.05 Z" fill="#111"/>
<path d="M481.78 97.66 L487.68 97.66 L484.73 92.64 Z" fill="#111"/>
<path d="M490.60 109.20 L496.50 109.20 L493.55 104.19 Z" fill="#111"/>
<path d="M499.41 118.35 L505.31 118.35 L502.36 113.34 Z" fill="#111"/>
<path d="M508.23 128.70 L514.13 128.70 L511.18 123.69 Z" fill="#111"/>
<path d="M517.05 136.40 L522.95 136.40 L520.00 131.38 Z" fill="#111"/>
<path d="M525.87 143.38 L531.77 143.38 L528.82 138.37 Z" fill="#111"/>
<path d="M534.68 150.37 L540.58 150.37 L537.63 145.35 Z" fill="#111"/>
<path d="M543.50 158.06 L549.40 158.06 L546.45 153.05 Z" fill="#111"/>
<path d="M552.32 163.72 L558.22 163.72 L555.27 158.71 Z" fill="#111"/>
<path d="M561.13 170.14 L567.03 170.14 L564.08 165.12 Z" fill="#111"/>
<path d="M569.95 175.13 L575.85 175.13 L572.90 170.12 Z" fill="#111"/>
<path d="M578.77 179.49 L584.67 179.49 L581.72 174.47 Z" fill="#111"/>
<path d="M587.59 185.24 L593.49 185.24 L590.54 180.22 Z" fill="#111"/>
<path d="M596.40 188.62 L602.30 188.62 L599.35 183.60 Z" fill="#111"/>
<path d="M605.22 193.11 L611.12 193.11 L608.17 188.09 Z" fill="#111"/>
<path d="M614.04 196.60 L619.94 196.60 L616.99 191.59 Z" fill="#111"/>
<path d="M622.86 199.76 L628.76 199.76 L625.81 194.75 Z" fill="#111"/>
<path d="M631.67 202.64 L637.57 202.64 L634.62 197.62 Z" fill="#111"/>
<path d="M640.49 205.29 L646.39 205.29 L643.44 200.28 Z" fill="#111"/>
<path d="M649.31 208.19 L655.21 208.19 L652.26 203.17 Z" fill="#111"/>
<path d="M658.12 210.11 L664.03 210.11 L661.08 205.10 Z" fill="#111"/>
<path d="M666.94 212.03 L672.84 212.03 L669.89 207.02 Z" fill="#111"/>
<path d="M675.76 212.52 L681.66 212.52 L678.71 207.51 Z" fill="#111"/>
<path d="M684.58 216.61 L690.48 216.61 L687.53 211.60 Z" fill="#111"/>
<path d="M693.39 217.32 L699.29 217.32 L696.34 212.30 Z" fill="#111"/>
<path d="M702.21 219.00 L708.11 219.00 L705.16 213.98 Z" fill="#111"/>
<path d="M711.03 220.46 L716.93 220.46 L713.98 215.44 Z" fill="#111"/>
<path d="M719.85 222.14 L725.75 222.14 L722.80 217.12 Z" fill="#111"/>
<path d="M728.66 223.82 L734.56 223.82 L731.61 218.80 Z" fill="#111"/>
<path d="M737.48 224.08 L743.38 224.08 L740.43 219.07 Z" fill="#111"/>
<path d="M746.30 225.74 L752.20 225.74 L749.25 220.73 Z" fill="#111"/>
<path d="M755.12 226.23 L761.02 226.23 L758.07 221.21 Z" fill="#111"/>
<path d="M763.93 226.23 L769.83 226.23 L766.88 221.21 Z" fill="#111"/>
<circle cx="458.28" cy="76.94" r="2.4" fill="#111"/>
<circle cx="467.09" cy="103.38" r="2.4" fill="#111"/>
<circle cx="475.91" cy="121.07" r="2.4" fill="#111"/>
<circle cx="484.73" cy="134.80" r="2.4" fill="#111"/>
<circle cx="493.55" cy="148.02" r="2.4" fill="#111"/>
<circle cx="502.36" cy="157.66" r="2.4" fill="#111"/>
<circle cx="511.18" cy="166.31" r="2.4" fill="#111"/>
<circle cx="520.00" cy="173.41" r="2.4" fill="#111"/>
<circle cx="528.82" cy="178.71" r="2.4" fill="#111"/>
<circle cx="537.63" cy="185.70" r="2.4" fill="#111"/>
<circle cx="546.45" cy="190.50" r="2.4" fill="#111"/>
<circle cx="555.27" cy="194.83" r="2.4" fill="#111"/>
<circle cx="564.08" cy="198.44" r="2.4" fill="#111"/>
<circle cx="572.90" cy="202.28" r="2.4" fill="#111"/>
<circle cx="581.72" cy="205.89" r="2.4" fill="#111"/>
<circle cx="448.20" cy="34.60" r="2.3" fill="#222"/>
<line x1="448.20" y1="23.00" x2="448.20" y2="256.30" stroke="#2a2a2a" stroke-width="1.35" />
<line x1="447.60" y1="255.70" x2="776.20" y2="255.70" stroke="#2a2a2a" stroke-width="1.45" />
<line x1="448.20" y1="23.60" x2="775.70" y2="23.60" stroke="#2a2a2a" stroke-width="1.15" />
<line x1="775.70" y1="23.60" x2="775.70" y2="255.70" stroke="#3a3a3a" stroke-width="1.0" />
<line x1="443.90" y1="255.70" x2="448.20" y2="255.70" stroke="#2a2a2a" stroke-width="1.25" />
<text x="441.40" y="259.30" font-size="10.30" text-anchor="end" font-weight="normal" fill="#222" stroke="#222" stroke-width="0.28" >0.0</text>
<line x1="445.60" y1="244.64" x2="448.20" y2="244.64" stroke="#2a2a2a" stroke-width="1.0" />
<line x1="443.90" y1="233.59" x2="448.20" y2="233.59" stroke="#2a2a2a" stroke-width="1.25" />
<text x="441.40" y="237.19" font-size="10.30" text-anchor="end" font-weight="normal" fill="#222" stroke="#222" stroke-width="0.28" >0.1</text>
<line x1="445.60" y1="222.53" x2="448.20" y2="222.53" stroke="#2a2a2a" stroke-width="1.0" />
<line x1="443.90" y1="211.48" x2="448.20" y2="211.48" stroke="#2a2a2a" stroke-width="1.25" />
<text x="441.40" y="215.08" font-size="10.30" text-anchor="end" font-weight="normal" fill="#222" stroke="#222" stroke-width="0.28" >0.2</text>
<line x1="445.60" y1="200.42" x2="448.20" y2="200.42" stroke="#2a2a2a" stroke-width="1.0" />
<line x1="443.90" y1="189.37" x2="448.20" y2="189.37" stroke="#2a2a2a" stroke-width="1.25" />
<text x="441.40" y="192.97" font-size="10.30" text-anchor="end" font-weight="normal" fill="#222" stroke="#222" stroke-width="0.28" >0.3</text>
<line x1="445.60" y1="178.31" x2="448.20" y2="178.31" stroke="#2a2a2a" stroke-width="1.0" />
<line x1="443.90" y1="167.26" x2="448.20" y2="167.26" stroke="#2a2a2a" stroke-width="1.25" />
<text x="441.40" y="170.86" font-size="10.30" text-anchor="end" font-weight="normal" fill="#222" stroke="#222" stroke-width="0.28" >0.4</text>
<line x1="445.60" y1="156.20" x2="448.20" y2="156.20" stroke="#2a2a2a" stroke-width="1.0" />
<line x1="443.90" y1="145.15" x2="448.20" y2="145.15" stroke="#2a2a2a" stroke-width="1.25" />
<text x="441.40" y="148.75" font-size="10.30" text-anchor="end" font-weight="normal" fill="#222" stroke="#222" stroke-width="0.28" >0.5</text>
<line x1="445.60" y1="134.09" x2="448.20" y2="134.09" stroke="#2a2a2a" stroke-width="1.0" />
<line x1="443.90" y1="123.04" x2="448.20" y2="123.04" stroke="#2a2a2a" stroke-width="1.25" />
<text x="441.40" y="126.64" font-size="10.30" text-anchor="end" font-weight="normal" fill="#222" stroke="#222" stroke-width="0.28" >0.6</text>
<line x1="445.60" y1="111.98" x2="448.20" y2="111.98" stroke="#2a2a2a" stroke-width="1.0" />
<line x1="443.90" y1="100.93" x2="448.20" y2="100.93" stroke="#2a2a2a" stroke-width="1.25" />
<text x="441.40" y="104.53" font-size="10.30" text-anchor="end" font-weight="normal" fill="#222" stroke="#222" stroke-width="0.28" >0.7</text>
<line x1="445.60" y1="89.88" x2="448.20" y2="89.88" stroke="#2a2a2a" stroke-width="1.0" />
<line x1="443.90" y1="78.82" x2="448.20" y2="78.82" stroke="#2a2a2a" stroke-width="1.25" />
<text x="441.40" y="82.42" font-size="10.30" text-anchor="end" font-weight="normal" fill="#222" stroke="#222" stroke-width="0.28" >0.8</text>
<line x1="445.60" y1="67.76" x2="448.20" y2="67.76" stroke="#2a2a2a" stroke-width="1.0" />
<line x1="443.90" y1="56.71" x2="448.20" y2="56.71" stroke="#2a2a2a" stroke-width="1.25" />
<text x="441.40" y="60.31" font-size="10.30" text-anchor="end" font-weight="normal" fill="#222" stroke="#222" stroke-width="0.28" >0.9</text>
<line x1="445.60" y1="45.65" x2="448.20" y2="45.65" stroke="#2a2a2a" stroke-width="1.0" />
<line x1="443.90" y1="34.60" x2="448.20" y2="34.60" stroke="#2a2a2a" stroke-width="1.25" />
<text x="441.40" y="38.20" font-size="10.30" text-anchor="end" font-weight="normal" fill="#222" stroke="#222" stroke-width="0.28" >1.0</text>
<line x1="448.20" y1="255.70" x2="448.20" y2="260.30" stroke="#2a2a2a" stroke-width="1.1" />
<text x="448.20" y="271.70" font-size="10.30" text-anchor="middle" font-weight="normal" fill="#222" stroke="#222" stroke-width="0.28" >0</text>
<line x1="460.80" y1="255.70" x2="460.80" y2="258.30" stroke="#2a2a2a" stroke-width="1.0" />
<line x1="473.39" y1="255.70" x2="473.39" y2="260.30" stroke="#2a2a2a" stroke-width="1.1" />
<text x="473.39" y="271.70" font-size="10.30" text-anchor="middle" font-weight="normal" fill="#222" stroke="#222" stroke-width="0.28" >20</text>
<line x1="485.99" y1="255.70" x2="485.99" y2="258.30" stroke="#2a2a2a" stroke-width="1.0" />
<line x1="498.58" y1="255.70" x2="498.58" y2="260.30" stroke="#2a2a2a" stroke-width="1.1" />
<text x="498.58" y="271.70" font-size="10.30" text-anchor="middle" font-weight="normal" fill="#222" stroke="#222" stroke-width="0.28" >40</text>
<line x1="511.18" y1="255.70" x2="511.18" y2="258.30" stroke="#2a2a2a" stroke-width="1.0" />
<line x1="523.78" y1="255.70" x2="523.78" y2="260.30" stroke="#2a2a2a" stroke-width="1.1" />
<text x="523.78" y="271.70" font-size="10.30" text-anchor="middle" font-weight="normal" fill="#222" stroke="#222" stroke-width="0.28" >60</text>
<line x1="536.37" y1="255.70" x2="536.37" y2="258.30" stroke="#2a2a2a" stroke-width="1.0" />
<line x1="548.97" y1="255.70" x2="548.97" y2="260.30" stroke="#2a2a2a" stroke-width="1.1" />
<text x="548.97" y="271.70" font-size="10.30" text-anchor="middle" font-weight="normal" fill="#222" stroke="#222" stroke-width="0.28" >80</text>
<line x1="561.57" y1="255.70" x2="561.57" y2="258.30" stroke="#2a2a2a" stroke-width="1.0" />
<line x1="574.16" y1="255.70" x2="574.16" y2="260.30" stroke="#2a2a2a" stroke-width="1.1" />
<text x="574.16" y="271.70" font-size="10.30" text-anchor="middle" font-weight="normal" fill="#222" stroke="#222" stroke-width="0.28" >100</text>
<line x1="586.76" y1="255.70" x2="586.76" y2="258.30" stroke="#2a2a2a" stroke-width="1.0" />
<line x1="599.35" y1="255.70" x2="599.35" y2="260.30" stroke="#2a2a2a" stroke-width="1.1" />
<text x="599.35" y="271.70" font-size="10.30" text-anchor="middle" font-weight="normal" fill="#222" stroke="#222" stroke-width="0.28" >120</text>
<line x1="611.95" y1="255.70" x2="611.95" y2="258.30" stroke="#2a2a2a" stroke-width="1.0" />
<line x1="624.55" y1="255.70" x2="624.55" y2="260.30" stroke="#2a2a2a" stroke-width="1.1" />
<text x="624.55" y="271.70" font-size="10.30" text-anchor="middle" font-weight="normal" fill="#222" stroke="#222" stroke-width="0.28" >140</text>
<line x1="637.14" y1="255.70" x2="637.14" y2="258.30" stroke="#2a2a2a" stroke-width="1.0" />
<line x1="649.74" y1="255.70" x2="649.74" y2="260.30" stroke="#2a2a2a" stroke-width="1.1" />
<text x="649.74" y="271.70" font-size="10.30" text-anchor="middle" font-weight="normal" fill="#222" stroke="#222" stroke-width="0.28" >160</text>
<line x1="662.33" y1="255.70" x2="662.33" y2="258.30" stroke="#2a2a2a" stroke-width="1.0" />
<line x1="674.93" y1="255.70" x2="674.93" y2="260.30" stroke="#2a2a2a" stroke-width="1.1" />
<text x="674.93" y="271.70" font-size="10.30" text-anchor="middle" font-weight="normal" fill="#222" stroke="#222" stroke-width="0.28" >180</text>
<line x1="687.53" y1="255.70" x2="687.53" y2="258.30" stroke="#2a2a2a" stroke-width="1.0" />
<line x1="700.12" y1="255.70" x2="700.12" y2="260.30" stroke="#2a2a2a" stroke-width="1.1" />
<text x="700.12" y="271.70" font-size="10.30" text-anchor="middle" font-weight="normal" fill="#222" stroke="#222" stroke-width="0.28" >200</text>
<line x1="712.72" y1="255.70" x2="712.72" y2="258.30" stroke="#2a2a2a" stroke-width="1.0" />
<line x1="725.32" y1="255.70" x2="725.32" y2="260.30" stroke="#2a2a2a" stroke-width="1.1" />
<text x="725.32" y="271.70" font-size="10.30" text-anchor="middle" font-weight="normal" fill="#222" stroke="#222" stroke-width="0.28" >220</text>
<line x1="737.91" y1="255.70" x2="737.91" y2="258.30" stroke="#2a2a2a" stroke-width="1.0" />
<line x1="750.51" y1="255.70" x2="750.51" y2="260.30" stroke="#2a2a2a" stroke-width="1.1" />
<text x="750.51" y="271.70" font-size="10.30" text-anchor="middle" font-weight="normal" fill="#222" stroke="#222" stroke-width="0.28" >240</text>
<line x1="763.10" y1="255.70" x2="763.10" y2="258.30" stroke="#2a2a2a" stroke-width="1.0" />
<line x1="775.70" y1="255.70" x2="775.70" y2="260.30" stroke="#2a2a2a" stroke-width="1.1" />
<text x="784.60" y="271.70" font-size="10.30" text-anchor="end" font-weight="normal" fill="#222" stroke="#222" stroke-width="0.28" >260</text>
<text x="611.20" y="293.20" font-size="12.80" text-anchor="middle" font-weight="normal" fill="#222" stroke="#222" stroke-width="0.28" >Time [min]</text>
<text x="412.60" y="143.00" font-size="12.80" text-anchor="middle" font-weight="normal" fill="#222" stroke="#222" stroke-width="0.28" transform="rotate(-90 412.60 143.00)" >Rel. fluorescence emission [a.u.]</text>
<text x="401.20" y="15.50" font-size="16.00" text-anchor="start" font-weight="bold" fill="#111" stroke="#111" stroke-width="0.28" >(b)</text>
<text x="666.90" y="47.70" font-size="12.30" text-anchor="middle" font-weight="normal" fill="#222" stroke="#222" stroke-width="0.28" >1</text>
<text x="759.80" y="60.70" font-size="12.30" text-anchor="middle" font-weight="normal" fill="#222" stroke="#222" stroke-width="0.28" >2</text>
<text x="695.70" y="140.00" font-size="12.30" text-anchor="middle" font-weight="normal" fill="#222" stroke="#222" stroke-width="0.28" >3</text>
<text x="616.90" y="158.80" font-size="12.30" text-anchor="middle" font-weight="normal" fill="#222" stroke="#222" stroke-width="0.28" >4</text>
<text x="759.70" y="212.70" font-size="12.30" text-anchor="middle" font-weight="normal" fill="#222" stroke="#222" stroke-width="0.28" >5</text>
<text x="616.70" y="221.00" font-size="12.30" text-anchor="middle" font-weight="normal" fill="#222" stroke="#222" stroke-width="0.28" >6</text>
<line x1="98.00" y1="528.65" x2="98.00" y2="503.47" stroke="#333" stroke-width="0.9" />
<line x1="95.80" y1="528.65" x2="100.20" y2="528.65" stroke="#333" stroke-width="0.9" />
<line x1="95.80" y1="503.47" x2="100.20" y2="503.47" stroke="#333" stroke-width="0.9" />
<rect x="95.05" y="512.96" width="5.9" height="5.9" fill="#111"/>
<line x1="144.20" y1="507.91" x2="144.20" y2="489.87" stroke="#333" stroke-width="0.9" />
<line x1="142.00" y1="507.91" x2="146.40" y2="507.91" stroke="#333" stroke-width="0.9" />
<line x1="142.00" y1="489.87" x2="146.40" y2="489.87" stroke="#333" stroke-width="0.9" />
<rect x="141.25" y="496.08" width="5.9" height="5.9" fill="#111"/>
<line x1="178.80" y1="514.02" x2="178.80" y2="495.91" stroke="#333" stroke-width="0.9" />
<line x1="176.60" y1="514.02" x2="181.00" y2="514.02" stroke="#333" stroke-width="0.9" />
<line x1="176.60" y1="495.91" x2="181.00" y2="495.91" stroke="#333" stroke-width="0.9" />
<rect x="175.85" y="502.20" width="5.9" height="5.9" fill="#111"/>
<line x1="249.40" y1="504.20" x2="249.40" y2="486.81" stroke="#333" stroke-width="0.9" />
<line x1="247.20" y1="504.20" x2="251.60" y2="504.20" stroke="#333" stroke-width="0.9" />
<line x1="247.20" y1="486.81" x2="251.60" y2="486.81" stroke="#333" stroke-width="0.9" />
<rect x="246.45" y="492.37" width="5.9" height="5.9" fill="#111"/>
<line x1="284.20" y1="465.49" x2="284.20" y2="454.07" stroke="#333" stroke-width="0.9" />
<line x1="282.00" y1="465.49" x2="286.40" y2="465.49" stroke="#333" stroke-width="0.9" />
<line x1="282.00" y1="454.07" x2="286.40" y2="454.07" stroke="#333" stroke-width="0.9" />
<rect x="281.25" y="456.94" width="5.9" height="5.9" fill="#111"/>
<line x1="330.90" y1="379.20" x2="330.90" y2="361.44" stroke="#333" stroke-width="0.9" />
<line x1="328.70" y1="379.20" x2="333.10" y2="379.20" stroke="#333" stroke-width="0.9" />
<line x1="328.70" y1="361.44" x2="333.10" y2="361.44" stroke="#333" stroke-width="0.9" />
<rect x="327.95" y="367.23" width="5.9" height="5.9" fill="#111"/>
<line x1="52.40" y1="344.50" x2="52.40" y2="545.40" stroke="#2a2a2a" stroke-width="1.35" />
<line x1="51.80" y1="544.80" x2="366.35" y2="544.80" stroke="#2a2a2a" stroke-width="1.45" />
<line x1="52.40" y1="345.10" x2="365.85" y2="345.10" stroke="#2a2a2a" stroke-width="1.15" />
<line x1="365.85" y1="345.10" x2="365.85" y2="544.80" stroke="#3a3a3a" stroke-width="1.0" />
<line x1="48.10" y1="544.80" x2="52.40" y2="544.80" stroke="#2a2a2a" stroke-width="1.25" />
<text x="45.60" y="548.40" font-size="10.30" text-anchor="end" font-weight="normal" fill="#222" stroke="#222" stroke-width="0.28" >0</text>
<line x1="48.10" y1="508.42" x2="52.40" y2="508.42" stroke="#2a2a2a" stroke-width="1.25" />
<text x="45.60" y="512.02" font-size="10.30" text-anchor="end" font-weight="normal" fill="#222" stroke="#222" stroke-width="0.28" >5</text>
<line x1="48.10" y1="472.04" x2="52.40" y2="472.04" stroke="#2a2a2a" stroke-width="1.25" />
<text x="45.60" y="475.64" font-size="10.30" text-anchor="end" font-weight="normal" fill="#222" stroke="#222" stroke-width="0.28" >10</text>
<line x1="48.10" y1="435.66" x2="52.40" y2="435.66" stroke="#2a2a2a" stroke-width="1.25" />
<text x="45.60" y="439.26" font-size="10.30" text-anchor="end" font-weight="normal" fill="#222" stroke="#222" stroke-width="0.28" >15</text>
<line x1="48.10" y1="399.28" x2="52.40" y2="399.28" stroke="#2a2a2a" stroke-width="1.25" />
<text x="45.60" y="402.88" font-size="10.30" text-anchor="end" font-weight="normal" fill="#222" stroke="#222" stroke-width="0.28" >20</text>
<line x1="48.10" y1="362.90" x2="52.40" y2="362.90" stroke="#2a2a2a" stroke-width="1.25" />
<text x="45.60" y="366.50" font-size="10.30" text-anchor="end" font-weight="normal" fill="#222" stroke="#222" stroke-width="0.28" >25</text>
<line x1="49.80" y1="526.61" x2="52.40" y2="526.61" stroke="#2a2a2a" stroke-width="1.0" />
<line x1="49.80" y1="490.23" x2="52.40" y2="490.23" stroke="#2a2a2a" stroke-width="1.0" />
<line x1="49.80" y1="453.85" x2="52.40" y2="453.85" stroke="#2a2a2a" stroke-width="1.0" />
<line x1="49.80" y1="417.47" x2="52.40" y2="417.47" stroke="#2a2a2a" stroke-width="1.0" />
<line x1="49.80" y1="381.09" x2="52.40" y2="381.09" stroke="#2a2a2a" stroke-width="1.0" />
<line x1="52.40" y1="544.80" x2="52.40" y2="549.40" stroke="#2a2a2a" stroke-width="1.25" />
<text x="52.40" y="558.90" font-size="10.30" text-anchor="middle" font-weight="normal" fill="#222" stroke="#222" stroke-width="0.28" >1</text>
<line x1="87.36" y1="544.80" x2="87.36" y2="547.40" stroke="#2a2a2a" stroke-width="1.0" />
<line x1="107.81" y1="544.80" x2="107.81" y2="547.40" stroke="#2a2a2a" stroke-width="1.0" />
<line x1="122.32" y1="544.80" x2="122.32" y2="547.40" stroke="#2a2a2a" stroke-width="1.0" />
<line x1="133.58" y1="544.80" x2="133.58" y2="547.40" stroke="#2a2a2a" stroke-width="1.0" />
<line x1="142.77" y1="544.80" x2="142.77" y2="547.40" stroke="#2a2a2a" stroke-width="1.0" />
<line x1="150.55" y1="544.80" x2="150.55" y2="547.40" stroke="#2a2a2a" stroke-width="1.0" />
<line x1="157.28" y1="544.80" x2="157.28" y2="547.40" stroke="#2a2a2a" stroke-width="1.0" />
<line x1="163.22" y1="544.80" x2="163.22" y2="547.40" stroke="#2a2a2a" stroke-width="1.0" />
<line x1="168.54" y1="544.80" x2="168.54" y2="549.40" stroke="#2a2a2a" stroke-width="1.25" />
<text x="168.54" y="558.90" font-size="10.30" text-anchor="middle" font-weight="normal" fill="#222" stroke="#222" stroke-width="0.28" >10</text>
<line x1="203.50" y1="544.80" x2="203.50" y2="547.40" stroke="#2a2a2a" stroke-width="1.0" />
<line x1="223.95" y1="544.80" x2="223.95" y2="547.40" stroke="#2a2a2a" stroke-width="1.0" />
<line x1="238.46" y1="544.80" x2="238.46" y2="547.40" stroke="#2a2a2a" stroke-width="1.0" />
<line x1="249.71" y1="544.80" x2="249.71" y2="547.40" stroke="#2a2a2a" stroke-width="1.0" />
<line x1="258.91" y1="544.80" x2="258.91" y2="547.40" stroke="#2a2a2a" stroke-width="1.0" />
<line x1="266.68" y1="544.80" x2="266.68" y2="547.40" stroke="#2a2a2a" stroke-width="1.0" />
<line x1="273.42" y1="544.80" x2="273.42" y2="547.40" stroke="#2a2a2a" stroke-width="1.0" />
<line x1="279.36" y1="544.80" x2="279.36" y2="547.40" stroke="#2a2a2a" stroke-width="1.0" />
<line x1="284.67" y1="544.80" x2="284.67" y2="549.40" stroke="#2a2a2a" stroke-width="1.25" />
<text x="284.67" y="558.90" font-size="10.30" text-anchor="middle" font-weight="normal" fill="#222" stroke="#222" stroke-width="0.28" >100</text>
<line x1="319.63" y1="544.80" x2="319.63" y2="547.40" stroke="#2a2a2a" stroke-width="1.0" />
<line x1="340.09" y1="544.80" x2="340.09" y2="547.40" stroke="#2a2a2a" stroke-width="1.0" />
<line x1="354.60" y1="544.80" x2="354.60" y2="547.40" stroke="#2a2a2a" stroke-width="1.0" />
<line x1="365.85" y1="544.80" x2="365.85" y2="547.40" stroke="#2a2a2a" stroke-width="1.0" />
<line x1="97.80" y1="345.10" x2="97.80" y2="341.80" stroke="#2a2a2a" stroke-width="1.0" />
<text x="99.00" y="337.50" font-size="10.30" text-anchor="middle" font-weight="normal" fill="#222" stroke="#222" stroke-width="0.28" >9.4</text>
<line x1="144.20" y1="345.10" x2="144.20" y2="341.80" stroke="#2a2a2a" stroke-width="1.0" />
<text x="144.20" y="337.50" font-size="10.30" text-anchor="middle" font-weight="normal" fill="#222" stroke="#222" stroke-width="0.28" >9.6</text>
<line x1="175.50" y1="345.10" x2="175.50" y2="341.80" stroke="#2a2a2a" stroke-width="1.0" />
<text x="175.50" y="337.50" font-size="10.30" text-anchor="middle" font-weight="normal" fill="#222" stroke="#222" stroke-width="0.28" >9.8</text>
<line x1="246.80" y1="345.10" x2="246.80" y2="341.80" stroke="#2a2a2a" stroke-width="1.0" />
<text x="245.80" y="337.50" font-size="10.30" text-anchor="middle" font-weight="normal" fill="#222" stroke="#222" stroke-width="0.28" >10.2</text>
<line x1="284.90" y1="345.10" x2="284.90" y2="341.80" stroke="#2a2a2a" stroke-width="1.0" />
<text x="284.90" y="337.50" font-size="10.30" text-anchor="middle" font-weight="normal" fill="#222" stroke="#222" stroke-width="0.28" >10.4</text>
<line x1="330.90" y1="345.10" x2="330.90" y2="341.80" stroke="#2a2a2a" stroke-width="1.0" />
<text x="330.90" y="337.50" font-size="10.30" text-anchor="middle" font-weight="normal" fill="#222" stroke="#222" stroke-width="0.28" >10.6</text>
<text x="209.00" y="324.60" font-size="11.60" text-anchor="middle" font-weight="normal" fill="#222" stroke="#222" stroke-width="0.28" >pH</text>
<text x="228.70" y="577.20" font-size="12.80" text-anchor="middle" font-weight="normal" fill="#222" stroke="#222" stroke-width="0.28" >Arginine concentration [mM]</text>
<text x="23.8" y="439" font-size="12.8" text-anchor="middle" fill="#222" transform="rotate(-90 23.8 439)">Rate constant x10<tspan font-size="8" dy="-5">-3</tspan><tspan dy="5"> [1/min]</tspan></text>
<text x="20.20" y="339.20" font-size="16.50" text-anchor="start" font-weight="bold" fill="#111" stroke="#111" stroke-width="0.28" >(c)</text>
<polyline points="448.2,390.3 516.7,389.8 585.2,390.3 589.3,454.2 653.7,457.1 722.2,457.7" fill="none" stroke="#333" stroke-width="0.95"/>
<circle cx="448.20" cy="390.29" r="2.9" fill="#111"/>
<circle cx="516.70" cy="389.78" r="2.9" fill="#111"/>
<circle cx="585.20" cy="390.29" r="2.9" fill="#111"/>
<circle cx="589.31" cy="454.20" r="2.9" fill="#111"/>
<circle cx="653.70" cy="457.14" r="2.9" fill="#111"/>
<circle cx="722.20" cy="457.69" r="2.9" fill="#111"/>
<line x1="446.00" y1="319.10" x2="446.00" y2="541.30" stroke="#2a2a2a" stroke-width="1.35" />
<line x1="445.40" y1="540.70" x2="757.00" y2="540.70" stroke="#2a2a2a" stroke-width="1.45" />
<line x1="446.00" y1="319.70" x2="756.50" y2="319.70" stroke="#2a2a2a" stroke-width="1.15" />
<line x1="756.50" y1="319.70" x2="756.50" y2="540.70" stroke="#3a3a3a" stroke-width="1.0" />
<line x1="441.70" y1="540.70" x2="446.00" y2="540.70" stroke="#2a2a2a" stroke-width="1.25" />
<text x="439.20" y="544.30" font-size="10.30" text-anchor="end" font-weight="normal" fill="#222" stroke="#222" stroke-width="0.28" >40</text>
<line x1="443.40" y1="522.30" x2="446.00" y2="522.30" stroke="#2a2a2a" stroke-width="1.0" />
<line x1="441.70" y1="503.89" x2="446.00" y2="503.89" stroke="#2a2a2a" stroke-width="1.25" />
<text x="439.20" y="507.49" font-size="10.30" text-anchor="end" font-weight="normal" fill="#222" stroke="#222" stroke-width="0.28" >50</text>
<line x1="443.40" y1="485.49" x2="446.00" y2="485.49" stroke="#2a2a2a" stroke-width="1.0" />
<line x1="441.70" y1="467.08" x2="446.00" y2="467.08" stroke="#2a2a2a" stroke-width="1.25" />
<text x="439.20" y="470.68" font-size="10.30" text-anchor="end" font-weight="normal" fill="#222" stroke="#222" stroke-width="0.28" >60</text>
<line x1="443.40" y1="448.68" x2="446.00" y2="448.68" stroke="#2a2a2a" stroke-width="1.0" />
<line x1="441.70" y1="430.27" x2="446.00" y2="430.27" stroke="#2a2a2a" stroke-width="1.25" />
<text x="439.20" y="433.87" font-size="10.30" text-anchor="end" font-weight="normal" fill="#222" stroke="#222" stroke-width="0.28" >70</text>
<line x1="443.40" y1="411.87" x2="446.00" y2="411.87" stroke="#2a2a2a" stroke-width="1.0" />
<line x1="441.70" y1="393.46" x2="446.00" y2="393.46" stroke="#2a2a2a" stroke-width="1.25" />
<text x="439.20" y="397.06" font-size="10.30" text-anchor="end" font-weight="normal" fill="#222" stroke="#222" stroke-width="0.28" >80</text>
<line x1="443.40" y1="375.06" x2="446.00" y2="375.06" stroke="#2a2a2a" stroke-width="1.0" />
<line x1="441.70" y1="356.65" x2="446.00" y2="356.65" stroke="#2a2a2a" stroke-width="1.25" />
<text x="439.20" y="360.25" font-size="10.30" text-anchor="end" font-weight="normal" fill="#222" stroke="#222" stroke-width="0.28" >90</text>
<line x1="443.40" y1="338.25" x2="446.00" y2="338.25" stroke="#2a2a2a" stroke-width="1.0" />
<line x1="441.70" y1="319.84" x2="446.00" y2="319.84" stroke="#2a2a2a" stroke-width="1.25" />
<text x="439.20" y="323.44" font-size="10.30" text-anchor="end" font-weight="normal" fill="#222" stroke="#222" stroke-width="0.28" >100</text>
<line x1="448.20" y1="540.70" x2="448.20" y2="545.30" stroke="#2a2a2a" stroke-width="1.25" />
<text x="448.20" y="555.60" font-size="10.30" text-anchor="middle" font-weight="normal" fill="#222" stroke="#222" stroke-width="0.28" >0</text>
<line x1="482.45" y1="540.70" x2="482.45" y2="543.30" stroke="#2a2a2a" stroke-width="1.0" />
<line x1="516.70" y1="540.70" x2="516.70" y2="545.30" stroke="#2a2a2a" stroke-width="1.25" />
<text x="516.70" y="555.60" font-size="10.30" text-anchor="middle" font-weight="normal" fill="#222" stroke="#222" stroke-width="0.28" >5</text>
<line x1="550.95" y1="540.70" x2="550.95" y2="543.30" stroke="#2a2a2a" stroke-width="1.0" />
<line x1="585.20" y1="540.70" x2="585.20" y2="545.30" stroke="#2a2a2a" stroke-width="1.25" />
<text x="585.20" y="555.60" font-size="10.30" text-anchor="middle" font-weight="normal" fill="#222" stroke="#222" stroke-width="0.28" >10</text>
<line x1="619.45" y1="540.70" x2="619.45" y2="543.30" stroke="#2a2a2a" stroke-width="1.0" />
<line x1="653.70" y1="540.70" x2="653.70" y2="545.30" stroke="#2a2a2a" stroke-width="1.25" />
<text x="653.70" y="555.60" font-size="10.30" text-anchor="middle" font-weight="normal" fill="#222" stroke="#222" stroke-width="0.28" >15</text>
<line x1="687.95" y1="540.70" x2="687.95" y2="543.30" stroke="#2a2a2a" stroke-width="1.0" />
<line x1="722.20" y1="540.70" x2="722.20" y2="545.30" stroke="#2a2a2a" stroke-width="1.25" />
<text x="722.20" y="555.60" font-size="10.30" text-anchor="middle" font-weight="normal" fill="#222" stroke="#222" stroke-width="0.28" >20</text>
<line x1="756.45" y1="540.70" x2="756.45" y2="543.30" stroke="#2a2a2a" stroke-width="1.0" />
<text x="590.20" y="577.60" font-size="12.80" text-anchor="middle" font-weight="normal" fill="#222" stroke="#222" stroke-width="0.28" >Time [min]</text>
<text x="412.60" y="434.20" font-size="12.80" text-anchor="middle" font-weight="normal" fill="#222" stroke="#222" stroke-width="0.28" transform="rotate(-90 412.60 434.20)" >Fluorescence emission at 487 nm [a.u.]</text>
<text x="397.00" y="310.30" font-size="16.30" text-anchor="start" font-weight="bold" fill="#111" stroke="#111" stroke-width="0.28" >(d)</text>
<text x="511.10" y="383.40" font-size="10.60" text-anchor="middle" font-weight="normal" fill="#222" stroke="#222" stroke-width="0.28" >pH 7.2</text>
<text x="661.00" y="449.00" font-size="10.60" text-anchor="middle" font-weight="normal" fill="#222" stroke="#222" stroke-width="0.28" >pH 1.75</text>
<text x="586.00" y="360.90" font-size="10.30" text-anchor="middle" font-weight="normal" fill="#222" stroke="#222" stroke-width="0.28" >HCl</text>
<line x1="584.60" y1="367.50" x2="584.60" y2="380.00" stroke="#222" stroke-width="0.9" />
<path d="M583.1 377.2 L584.6 382 L586.1 377.2 Z" fill="#222"/>
</svg>
</body></html>
